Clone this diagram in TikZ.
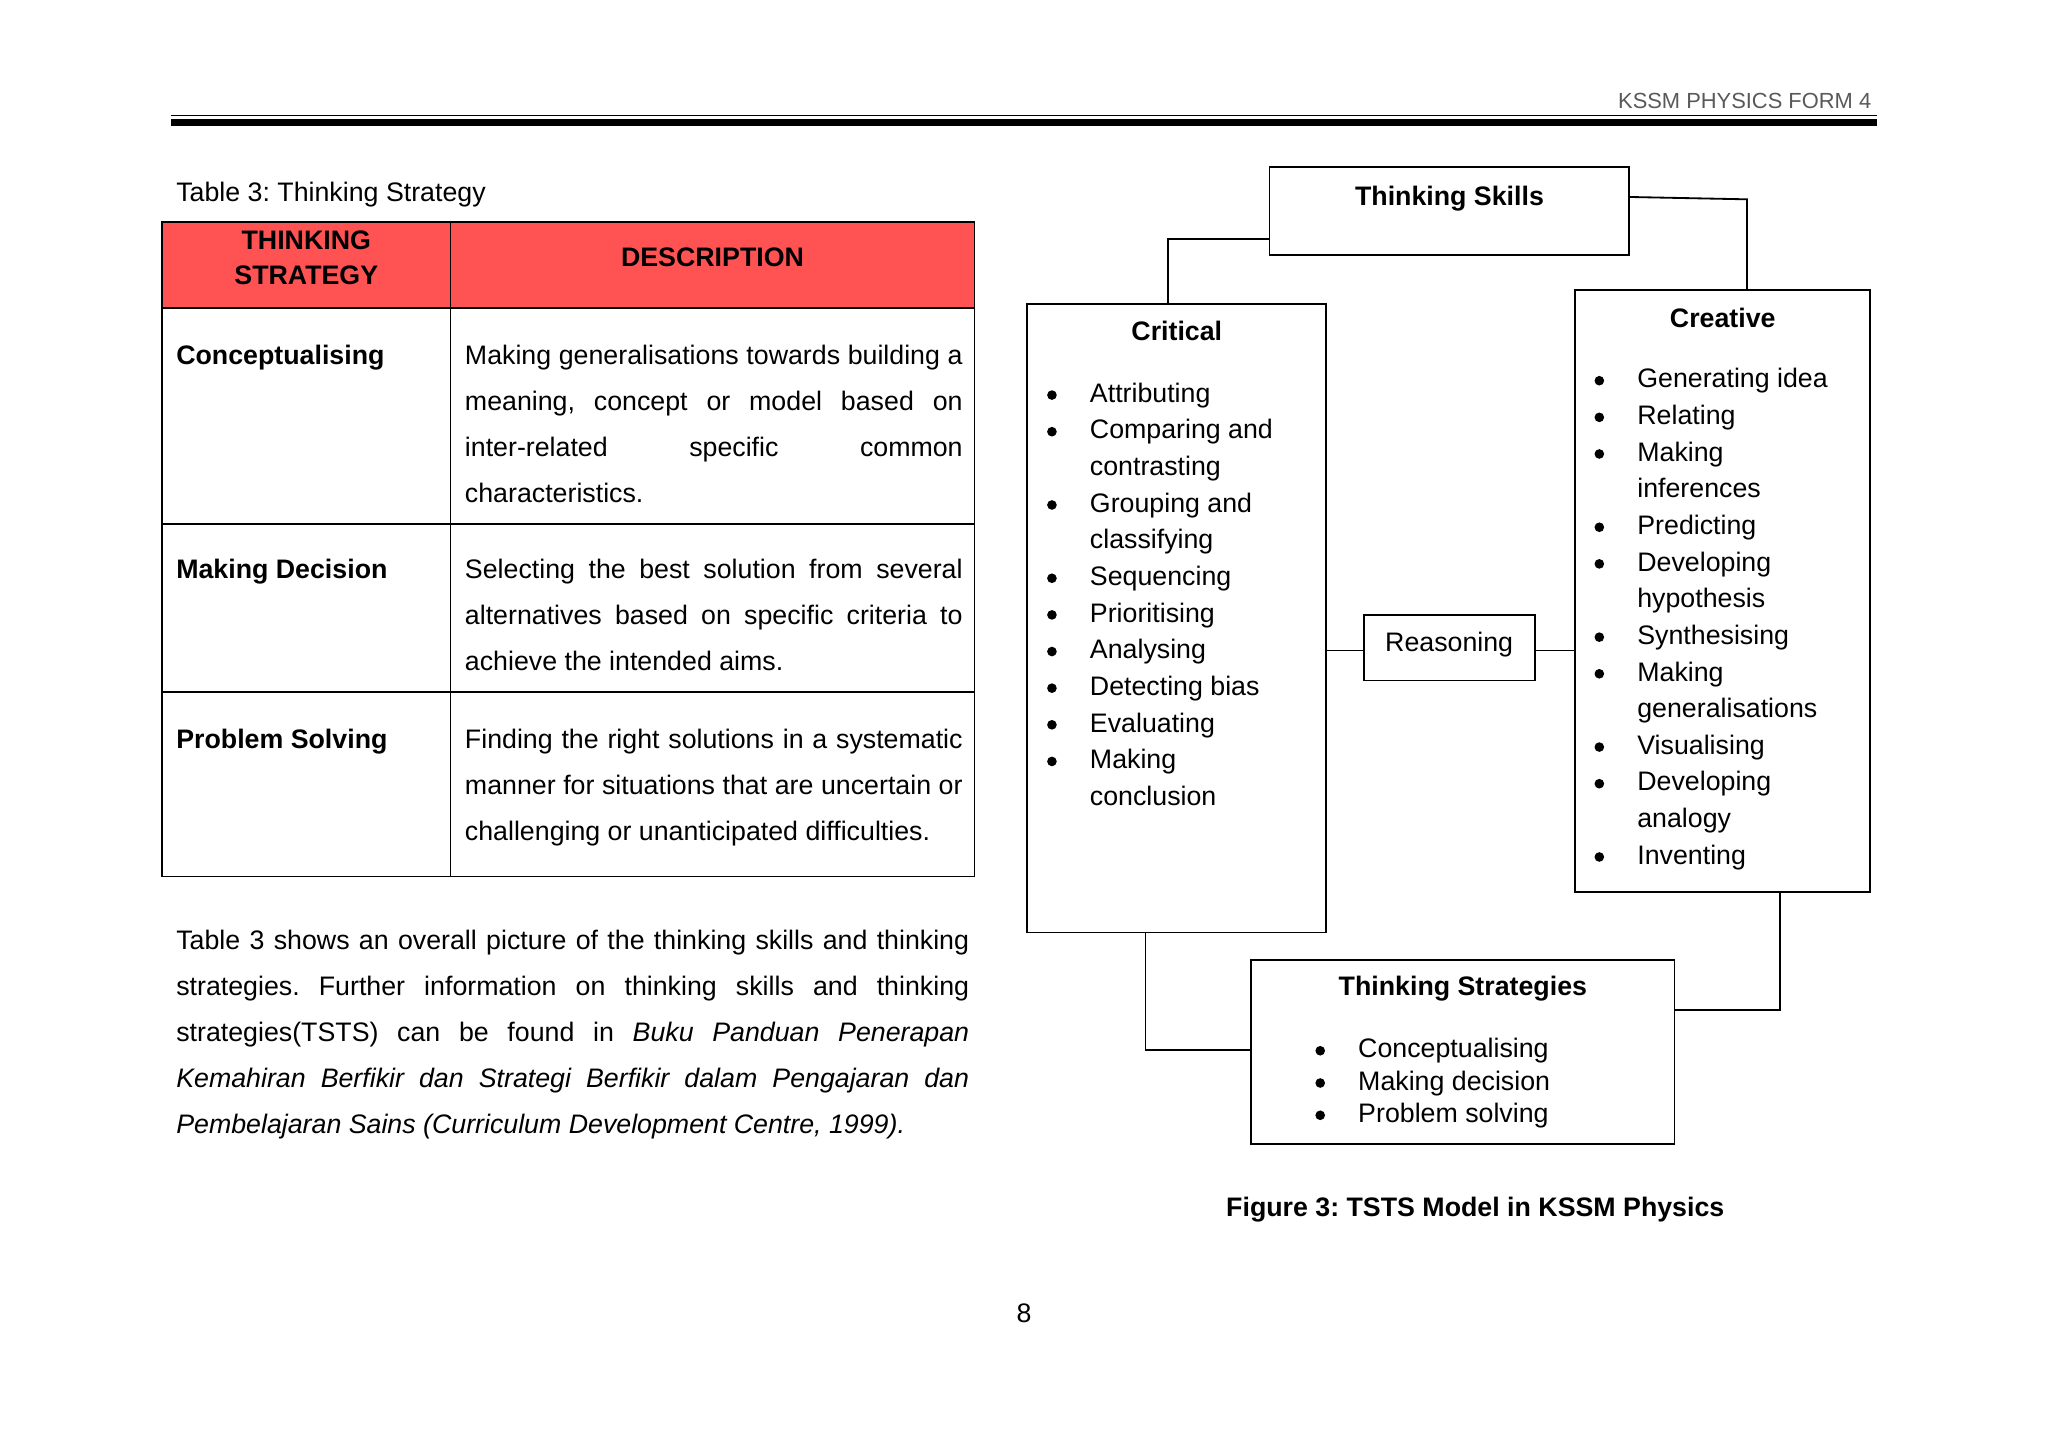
\documentclass[tikz,border=0pt]{standalone}
\usepackage{fontspec}
\setmainfont{Liberation Sans}
\frenchspacing
\newlength\pxu \setlength\pxu{0.53692pt}
\newlength\bind
\definecolor{hdrred}{HTML}{FF5252}
\definecolor{hdrgray}{HTML}{595959}
\newcommand\justpar[3]{\vtop{\hsize=#1\pxu\parindent=0pt\baselineskip=#2\pxu\lineskiplimit=-10pt\tolerance=10000\hbadness=10000\hyphenpenalty=10000\exhyphenpenalty=10000\leftskip=0pt\rightskip=0pt\parfillskip=0pt plus 1fil\relax #3\par}}
\newcommand\blist[3]{\vtop{\hsize=#1\pxu\parindent=0pt\baselineskip=#2\pxu\lineskiplimit=-10pt\leftskip=0pt\rightskip=0pt plus 1fil\parfillskip=0pt plus 1fil\relax #3\par}}
\newcommand\bdot{\tikz[baseline=0pt]\fill (0.18em,0.27em) circle[radius=0.18em];}
\newcommand\bitem[1]{\par\hangindent=\bind\hangafter=1\noindent\makebox[\bind][l]{\bdot}#1}
\begin{document}
\begin{tikzpicture}[x=0.53692pt,y=-0.53692pt,
  txt/.style={inner sep=0pt, outer sep=0pt, yshift=-1.5\pxu, font=\fontsize{11}{13}\selectfont},
  btxt/.style={inner sep=0pt, outer sep=0pt, yshift=-1.5\pxu, font=\fontsize{11}{13}\selectfont\bfseries},
  box/.style={draw, line width=0.75pt, inner sep=0pt, outer sep=0pt},
  conn/.style={line width=0.75pt},
  tline/.style={line width=0.7pt}]
\useasboundingbox (0,0) rectangle (1568,1108.7);

% page header
\node[inner sep=0pt, anchor=base east, yshift=-1.2\pxu, text=hdrgray, font=\fontsize{9}{11}\selectfont] (hdr) at (1433,82.2) {KSSM PHYSICS FORM 4};
\draw[line width=0.55pt] (131,88.3) -- (1437,88.3);
\draw[line width=2.6pt] (131,93.8) -- (1437,93.8);

% table caption
\node[txt, anchor=base west] (tcap) at (135,153) {Table 3: Thinking Strategy};

% table
\fill[hdrred] (124,170) rectangle (746,236);
\draw[tline] (124,170) rectangle (746,671);
\draw[tline] (345,170) -- (345,671);
\draw[tline] (124,236) -- (746,236);
\draw[tline] (124,401) -- (746,401);
\draw[tline] (124,530) -- (746,530);

\node[btxt, anchor=base] (h1) at (234.5,189.4) {\vtop{\hsize=221\pxu\centering\baselineskip=26.8\pxu THINKING\\STRATEGY\par}};
\node[btxt, anchor=base] (h2) at (545.5,202.8) {DESCRIPTION};

\node[btxt, anchor=base west] (r1) at (135,277.7) {Conceptualising};
\node[txt, anchor=base west] (d1) at (356,277.7) {\justpar{381}{35.3}{Making generalisations towards building a\linebreak meaning, concept or model based on\linebreak inter-related specific common\linebreak characteristics.}};

\node[btxt, anchor=base west] (r2) at (135,441.5) {Making Decision};
\node[txt, anchor=base west] (d2) at (356,441.5) {\justpar{381}{35.3}{Selecting the best solution from several\linebreak alternatives based on specific criteria to\linebreak achieve the intended aims.}};

\node[btxt, anchor=base west] (r3) at (135,571.5) {Problem Solving};
\node[txt, anchor=base west] (d3) at (356,571.5) {\justpar{381}{35.3}{Finding the right solutions in a systematic\linebreak manner for situations that are uncertain or\linebreak challenging or unanticipated difficulties.}};

% paragraph
\node[txt, anchor=base west] (para) at (135,725.5) {\justpar{607}{35.3}{Table 3 shows an overall picture of the thinking skills and thinking\linebreak strategies. Further information on thinking skills and thinking\linebreak strategies(TSTS) can be found in \textit{Buku Panduan Penerapan\linebreak Kemahiran Berfikir dan Strategi Berfikir dalam Pengajaran dan\linebreak Pembelajaran Sains (Curriculum Development Centre, 1999).}}};

% diagram boxes
\node[box, minimum width=275.5\pxu, minimum height=67\pxu] (ts) at (1109.75,161.5) {};
\node[box, minimum width=229\pxu, minimum height=481\pxu] (crit) at (900.5,473.5) {};
\node[box, minimum width=226\pxu, minimum height=461\pxu] (cre) at (1319,452.5) {};
\node[box, minimum width=131\pxu, minimum height=50\pxu] (rea) at (1109.5,496) {};
\node[box, minimum width=324\pxu, minimum height=141\pxu] (str) at (1120,805.5) {};

% titles
\node[btxt, anchor=base] (tst) at (1109.75,156) {Thinking Skills};
\node[btxt, anchor=base] (critt) at (901,259) {Critical};
\node[btxt, anchor=base] (cret) at (1319,249) {Creative};
\node[txt, anchor=base] (reat) at (1109.5,497.5) {Reasoning};
\node[btxt, anchor=base] (strt) at (1120,761) {Thinking Strategies};

% lists
\setlength\bind{32.8\pxu}
\node[txt, anchor=base west] (critl) at (801.7,306.5) {\blist{205}{28.05}{%
\bitem{Attributing}
\bitem{Comparing and\newline contrasting}
\bitem{Grouping and\newline classifying}
\bitem{Sequencing}
\bitem{Prioritising}
\bitem{Analysing}
\bitem{Detecting bias}
\bitem{Evaluating}
\bitem{Making\newline conclusion}}};
\node[txt, anchor=base west] (crel) at (1220.8,295.5) {\blist{205}{28.05}{%
\bitem{Generating idea}
\bitem{Relating}
\bitem{Making\newline inferences}
\bitem{Predicting}
\bitem{Developing\newline hypothesis}
\bitem{Synthesising}
\bitem{Making\newline generalisations}
\bitem{Visualising}
\bitem{Developing\newline analogy}
\bitem{Inventing}}};
\node[txt, anchor=base west] (strl) at (1007.1,808.5) {\blist{260}{24.7}{%
\bitem{Conceptualising}
\bitem{Making decision}
\bitem{Problem solving}}};

% connectors
\coordinate (tsl) at ([yshift=12.2\pxu]ts.south west);
\coordinate (critin) at ([xshift=-6.3\pxu]crit.north);
\draw[conn] (tsl) -| (critin);
\coordinate (tsrs) at ([yshift=-22.8\pxu]ts.north east);
\coordinate (tsr) at (1337.5,152.6);
\draw[conn] (tsrs) -- (tsr) -- (tsr |- cre.north);
\coordinate (rl) at ([yshift=-2\pxu]rea.west);
\coordinate (rr) at ([yshift=-2\pxu]rea.east);
\draw[conn] (rl) -- (rl -| crit.east);
\draw[conn] (rr) -- (rr -| cre.west);
\coordinate (critout) at ([xshift=-23.5\pxu]crit.south);
\coordinate (strin) at ([yshift=1.3\pxu]str.west);
\draw[conn] (critout) |- (strin);
\coordinate (creout) at ([xshift=44\pxu]cre.south);
\coordinate (strr) at ([yshift=32.5\pxu]str.east);
\draw[conn] (creout) |- (strr);

% caption and page number
\node[btxt, anchor=base] (fcap) at (1129.5,929.5) {Figure 3: TSTS Model in KSSM Physics};
\node[txt, anchor=base] (pnum) at (784,1011) {8};
\end{tikzpicture}
\end{document}
